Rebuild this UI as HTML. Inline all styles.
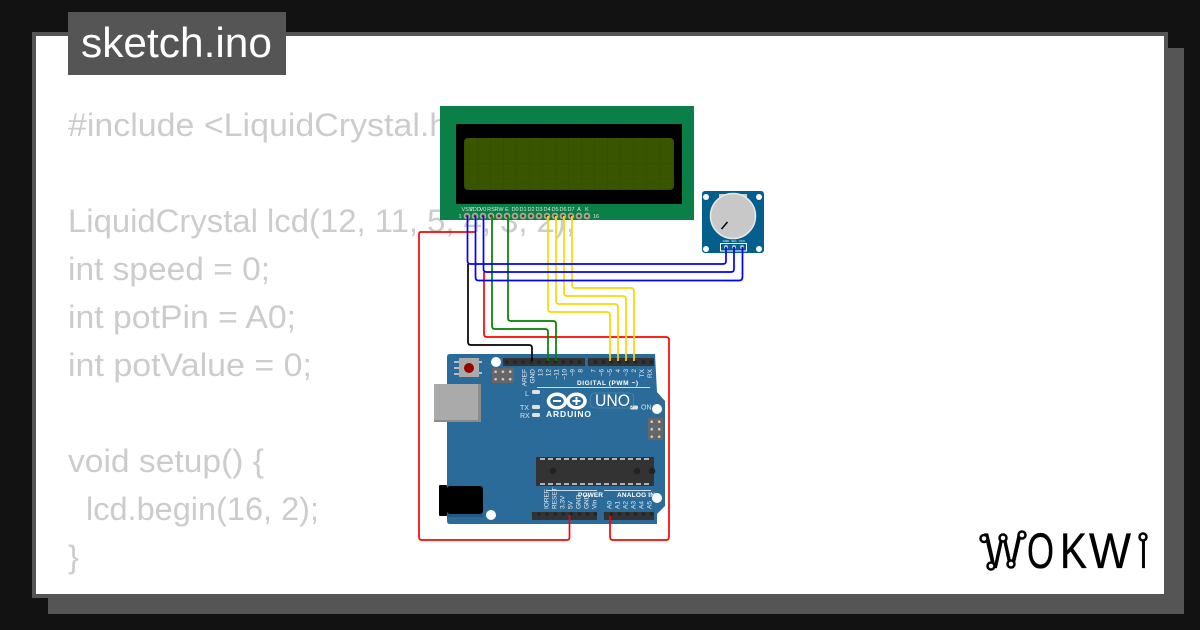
<!DOCTYPE html>
<html><head><meta charset="utf-8"><style>
html,body{margin:0;padding:0;background:#121212;width:1200px;height:630px;overflow:hidden}
svg{display:block}
text{font-family:"Liberation Sans",sans-serif}
.c{font-size:32px;fill:#ccc}
.w{fill:none;stroke-width:1.7;stroke-linejoin:round}
.l{font-size:6.5px;fill:#e8eef4;text-anchor:middle}
.t{font-size:7px;fill:#d5e2ec}
.p{font-size:5.5px;fill:#d8e8d8;text-anchor:middle}
.lg{font-size:50px;fill:#000;stroke:#000;stroke-width:.3}
</style></head><body>
<svg width="1200" height="630" viewBox="0 0 1200 630" xmlns="http://www.w3.org/2000/svg">
<defs>
<pattern id="hp" x="503" y="358" width="8.03" height="8" patternUnits="userSpaceOnUse"><rect width="8.03" height="8" fill="#333"/><rect x="2.5" y="2.5" width="3" height="3" fill="#222"/></pattern>
<pattern id="lp" x="463" y="212" width="8" height="8" patternUnits="userSpaceOnUse"><circle cx="4" cy="4" r="3.300" fill="#b3ab8c"/><circle cx="4" cy="4" r="1.500" fill="#444"/></pattern>
<pattern id="ic" x="492" y="368" width="7.3" height="7.5" patternUnits="userSpaceOnUse"><rect width="7.3" height="7.5" fill="#666"/><circle cx="3.6" cy="3.7" r="1.3" fill="#ccc"/></pattern>
<pattern id="ic2" x="648" y="418" width="7.5" height="7.5" patternUnits="userSpaceOnUse"><rect width="7.5" height="7.5" fill="#666"/><circle cx="3.7" cy="3.7" r="1.3" fill="#ccc"/></pattern>
<pattern id="lcdg" x="464" y="138" width="13" height="26" patternUnits="userSpaceOnUse"><rect width="13" height="26" fill="#395500"/><rect x="0" y="0" width="1" height="26" fill="#355000"/><rect y="25" width="13" height="1" fill="#355000"/></pattern>
</defs>

<rect x="48" y="48" width="1136" height="566" fill="#555"/>
<rect x="34" y="34" width="1132" height="562" fill="#fff" stroke="#555" stroke-width="4"/>

<text class="c" x="68" y="136" textLength="400" lengthAdjust="spacingAndGlyphs">#include &lt;LiquidCrystal.h&gt;</text>
<text class="c" x="68" y="232" textLength="507" lengthAdjust="spacingAndGlyphs">LiquidCrystal lcd(12, 11, 5, 4, 3, 2);</text>
<text class="c" x="68" y="280" textLength="202" lengthAdjust="spacingAndGlyphs">int speed = 0;</text>
<text class="c" x="68" y="328" textLength="228" lengthAdjust="spacingAndGlyphs">int potPin = A0;</text>
<text class="c" x="68" y="376" textLength="244" lengthAdjust="spacingAndGlyphs">int potValue = 0;</text>
<text class="c" x="68" y="472" textLength="196" lengthAdjust="spacingAndGlyphs">void setup() {</text>
<text class="c" x="86" y="520" textLength="233" lengthAdjust="spacingAndGlyphs">lcd.begin(16, 2);</text>
<text class="c" x="68" y="568" textLength="11" lengthAdjust="spacingAndGlyphs">}</text>

<rect x="68" y="12" width="218" height="63" fill="#555"/>
<text x="81" y="57" font-size="42" fill="#fff" textLength="191" lengthAdjust="spacingAndGlyphs">sketch.ino</text>

<!-- LCD -->
<rect x="440" y="106" width="254" height="114" fill="#0a7f48"/>
<rect x="456" y="124" width="226" height="80"/>
<rect x="464" y="138" width="210" height="52" rx="4" fill="url(#lcdg)"/>
<rect x="463" y="212" width="128" height="8" fill="url(#lp)"/>
<g>
<text class="p" x="467" y="211">VSS</text><text class="p" x="475" y="211">VDD</text><text class="p" x="483" y="211">V0</text><text class="p" x="491" y="211">RS</text><text class="p" x="499" y="211">RW</text><text class="p" x="507" y="211">E</text><text class="p" x="515" y="211">D0</text><text class="p" x="523" y="211">D1</text><text class="p" x="531" y="211">D2</text><text class="p" x="539" y="211">D3</text><text class="p" x="547" y="211">D4</text><text class="p" x="555" y="211">D5</text><text class="p" x="563" y="211">D6</text><text class="p" x="571" y="211">D7</text><text class="p" x="579" y="211">A</text><text class="p" x="587" y="211">K</text>
<text class="p" x="460" y="218">1</text><text class="p" x="596" y="218">16</text>
</g>

<!-- Pot -->
<rect x="702" y="191" width="62" height="62" rx="3" fill="#045f8c"/>
<rect x="719" y="194" width="28" height="8" fill="#ccc"/>
<circle cx="733" cy="216" r="22.5" fill="#c8c8c8" stroke="#e8e8e8" stroke-width="1.5"/>
<line x1="721.500" y1="229" x2="727.500" y2="222" stroke="#000" stroke-width="1.500"/>
<g fill="#fff"><circle cx="706" cy="197" r="3"/><circle cx="759" cy="197" r="3"/><circle cx="706" cy="249" r="3"/><circle cx="759" cy="249" r="3"/></g>
<rect x="720.5" y="243.5" width="26" height="7.5" fill="none" stroke="#fff"/>
<g fill="#bbb"><circle cx="726" cy="247" r="2"/><circle cx="734" cy="247" r="2"/><circle cx="742" cy="247" r="2"/></g>
<g fill="#fff" font-size="3" text-anchor="middle"><text x="726" y="242">GND</text><text x="734" y="242">SIG</text><text x="742" y="242">VCC</text></g>

<!-- Arduino -->
<path d="M450 354H655L657 392L665 401V506L657 514V524H450Q447 524 447 521V357Q447 354 450 354Z" fill="#2b6b99"/>
<rect x="503" y="358" width="82" height="8" fill="url(#hp)"/>
<rect x="588" y="358" width="66" height="8" fill="url(#hp)"/>
<rect x="532" y="512" width="65" height="8" fill="url(#hp)"/>
<rect x="604" y="512" width="50" height="8" fill="url(#hp)"/>
<rect x="459" y="358" width="20" height="19" fill="#aaa"/>
<rect x="454" y="361" width="5" height="2" fill="#bbb"/><rect x="454" y="367" width="5" height="2" fill="#bbb"/><rect x="454" y="373" width="5" height="2" fill="#bbb"/><rect x="479" y="361" width="3" height="2" fill="#bbb"/><rect x="479" y="372" width="3" height="2" fill="#bbb"/>
<circle cx="469" cy="368" r="5" fill="#900"/>
<rect x="492" y="368" width="22" height="15" fill="url(#ic)"/>
<rect x="648" y="418" width="15" height="22" fill="url(#ic2)"/>
<g fill="#fff"><circle cx="496" cy="362" r="5"/><circle cx="657" cy="409" r="5"/><circle cx="657" cy="498" r="5"/><circle cx="491" cy="515" r="5"/></g>
<rect x="434" y="384" width="47" height="38" fill="#aaa"/><rect x="478" y="384" width="3" height="38" fill="#8c8c8c"/><rect x="434" y="420" width="47" height="2" fill="#8c8c8c"/>
<rect x="439" y="485" width="8" height="31" rx="1" fill="#000"/><rect x="447" y="486" width="36" height="28" rx="3" fill="#000"/><rect x="447" y="514" width="36" height="3" fill="#245a82"/>
<rect x="536" y="457" width="118" height="29" rx="1" fill="#333"/>
<line x1="540" y1="459" x2="651" y2="459" stroke="#ddd" stroke-width="1.600" stroke-dasharray="5 3"/>
<line x1="540" y1="484" x2="651" y2="484" stroke="#ddd" stroke-width="1.600" stroke-dasharray="5 3"/>
<circle cx="553" cy="471" r="3.3" fill="#222"/><circle cx="637" cy="471" r="3.3" fill="#222"/><circle cx="652" cy="471" r="3.3" fill="#222"/>

<g>
<text class="l" style="text-anchor:end" transform="translate(526.5,369) rotate(-90)">AREF</text>
<text class="l" style="text-anchor:end" transform="translate(534.5,369) rotate(-90)">GND</text>
<text class="l" style="text-anchor:end" transform="translate(542.5,369) rotate(-90)">13</text>
<text class="l" style="text-anchor:end" transform="translate(550.5,369) rotate(-90)">12</text>
<text class="l" style="text-anchor:end" transform="translate(558.5,369) rotate(-90)">~11</text>
<text class="l" style="text-anchor:end" transform="translate(566.5,369) rotate(-90)">~10</text>
<text class="l" style="text-anchor:end" transform="translate(574.5,369) rotate(-90)">~9</text>
<text class="l" style="text-anchor:end" transform="translate(582.5,369) rotate(-90)">8</text>
<text class="l" style="text-anchor:end" transform="translate(595.5,369) rotate(-90)">7</text>
<text class="l" style="text-anchor:end" transform="translate(603.5,369) rotate(-90)">~6</text>
<text class="l" style="text-anchor:end" transform="translate(612,369) rotate(-90)">~5</text>
<text class="l" style="text-anchor:end" transform="translate(620,369) rotate(-90)">4</text>
<text class="l" style="text-anchor:end" transform="translate(628,369) rotate(-90)">~3</text>
<text class="l" style="text-anchor:end" transform="translate(636,369) rotate(-90)">2</text>
<text class="l" style="text-anchor:end" transform="translate(644,369) rotate(-90)">TX</text>
<text class="l" style="text-anchor:end" transform="translate(652,369) rotate(-90)">RX</text>
<text class="l" style="text-anchor:start" transform="translate(548.5,509) rotate(-90)">IOREF</text>
<text class="l" style="text-anchor:start" transform="translate(556.5,509) rotate(-90)">RESET</text>
<text class="l" style="text-anchor:start" transform="translate(564.5,509) rotate(-90)">3.3V</text>
<text class="l" style="text-anchor:start" transform="translate(572.5,509) rotate(-90)">5V</text>
<text class="l" style="text-anchor:start" transform="translate(580.5,509) rotate(-90)">GND</text>
<text class="l" style="text-anchor:start" transform="translate(588.5,509) rotate(-90)">GND</text>
<text class="l" style="text-anchor:start" transform="translate(596.5,509) rotate(-90)">Vin</text>
<text class="l" style="text-anchor:start" transform="translate(611.5,509) rotate(-90)">A0</text>
<text class="l" style="text-anchor:start" transform="translate(619.5,509) rotate(-90)">A1</text>
<text class="l" style="text-anchor:start" transform="translate(627.5,509) rotate(-90)">A2</text>
<text class="l" style="text-anchor:start" transform="translate(635.5,509) rotate(-90)">A3</text>
<text class="l" style="text-anchor:start" transform="translate(643.5,509) rotate(-90)">A4</text>
<text class="l" style="text-anchor:start" transform="translate(651.5,509) rotate(-90)">A5</text>
</g>
<text x="577" y="385" font-size="6.5" font-weight="bold" fill="#fff" textLength="61">DIGITAL (PWM ~)</text>
<rect x="537" y="387" width="113" height="1" fill="#cfdde8"/>
<text x="578" y="497" font-size="6.5" font-weight="bold" fill="#fff" textLength="25">POWER</text>
<text x="617" y="497" font-size="6.5" font-weight="bold" fill="#fff" textLength="38">ANALOG IN</text>
<rect x="546" y="490" width="51" height="1" fill="#cfdde8"/><rect x="604" y="490" width="47" height="1" fill="#cfdde8"/>
<text class="t" x="525" y="396">L</text><text class="t" x="520" y="410">TX</text><text class="t" x="520" y="418">RX</text>
<g fill="#e0e0e0"><rect x="532" y="390" width="8" height="4" rx="1.500"/><rect x="532" y="405" width="8" height="4" rx="1.500"/><rect x="532" y="413" width="8" height="4" rx="1.500"/><rect x="630" y="405.500" width="8" height="4" rx="1.500"/></g>
<text class="t" x="641" y="409.500">ON</text>
<g fill="none" stroke="#fff" stroke-width="3.500"><ellipse cx="557" cy="401" rx="8.500" ry="6.800"/><ellipse cx="576.500" cy="401" rx="8.500" ry="6.800"/></g>
<rect x="553" y="400" width="8" height="2" fill="#fff"/><rect x="572.500" y="400" width="8" height="2" fill="#fff"/><rect x="575.500" y="397" width="2" height="8" fill="#fff"/>
<rect x="590.500" y="393" width="43" height="15" rx="4" fill="none" stroke="#4d86ad" stroke-width=".8"/>
<text x="595" y="406" font-size="17" fill="#fff" textLength="35" lengthAdjust="spacingAndGlyphs">UNO</text>
<text x="546" y="417" font-size="8.5" font-weight="bold" fill="#fff" textLength="45">ARDUINO</text>

<!-- Wires -->
<path class="w" stroke="#f00" d="M475 232H421Q419 232 419 234V537Q419 540 422 540H567Q569.500 540 569.500 537V515"/>
<path class="w" stroke="#f00" d="M484 272V334Q484 337 487 337H666Q669 337 669 340V537Q669 540 666 540H613Q610 540 610 537V516"/>
<path class="w" stroke="#000" d="M468 264V342Q468 345 471 345H529Q532 345 532 348V361"/>
<path class="w" stroke="#008000" d="M492 216V326Q492 329 495 329H545Q548 329 548 332V361"/>
<path class="w" stroke="#008000" d="M508 216V318Q508 321 511 321H553Q556 321 556 324V361"/>
<path class="w" stroke="#ffd700" d="M548 216V309Q548 312 551 312H607Q610 312 610 315V361"/>
<path class="w" stroke="#ffd700" d="M556 216V301Q556 304 559 304H615Q618 304 618 307V361"/>
<path class="w" stroke="#ffd700" d="M564 216V293Q564 296 567 296H623Q626 296 626 299V361"/>
<path class="w" stroke="#ffd700" d="M572 216V285Q572 288 575 288H631Q634 288 634 291V361"/>
<path class="w" stroke="#00f" d="M467.500 216V261Q467.500 264 470.500 264H723Q726 264 726 261V247"/>
<path class="w" stroke="#00f" d="M483.500 216V269Q483.500 272 486.500 272H731Q734 272 734 269V247"/>
<path class="w" stroke="#00f" d="M475.500 216V277Q475.500 280.500 478.500 280.500H739Q742.500 280.500 742.500 277V247"/>

<!-- Logo -->
<text class="lg" x="984" y="568" textLength="38" lengthAdjust="spacingAndGlyphs">W</text>
<text class="lg" x="1027" y="568" textLength="27" lengthAdjust="spacingAndGlyphs">O</text>
<text class="lg" x="1060" y="568" textLength="27" lengthAdjust="spacingAndGlyphs">K</text>
<text class="lg" x="1089" y="568" textLength="42" lengthAdjust="spacingAndGlyphs">W</text>
<text class="lg" x="1139" y="568" textLength="9" lengthAdjust="spacingAndGlyphs">ı</text>
<g fill="#fff" stroke="#000" stroke-width="2.500"><circle cx="984" cy="538.500" r="3.500"/><circle cx="1003" cy="538" r="3.500"/><circle cx="1022" cy="535" r="3.500"/><circle cx="991" cy="566" r="3.500"/><circle cx="1011" cy="564" r="3.500"/><circle cx="1143" cy="537" r="3.500"/></g>
</svg>
</body></html>
